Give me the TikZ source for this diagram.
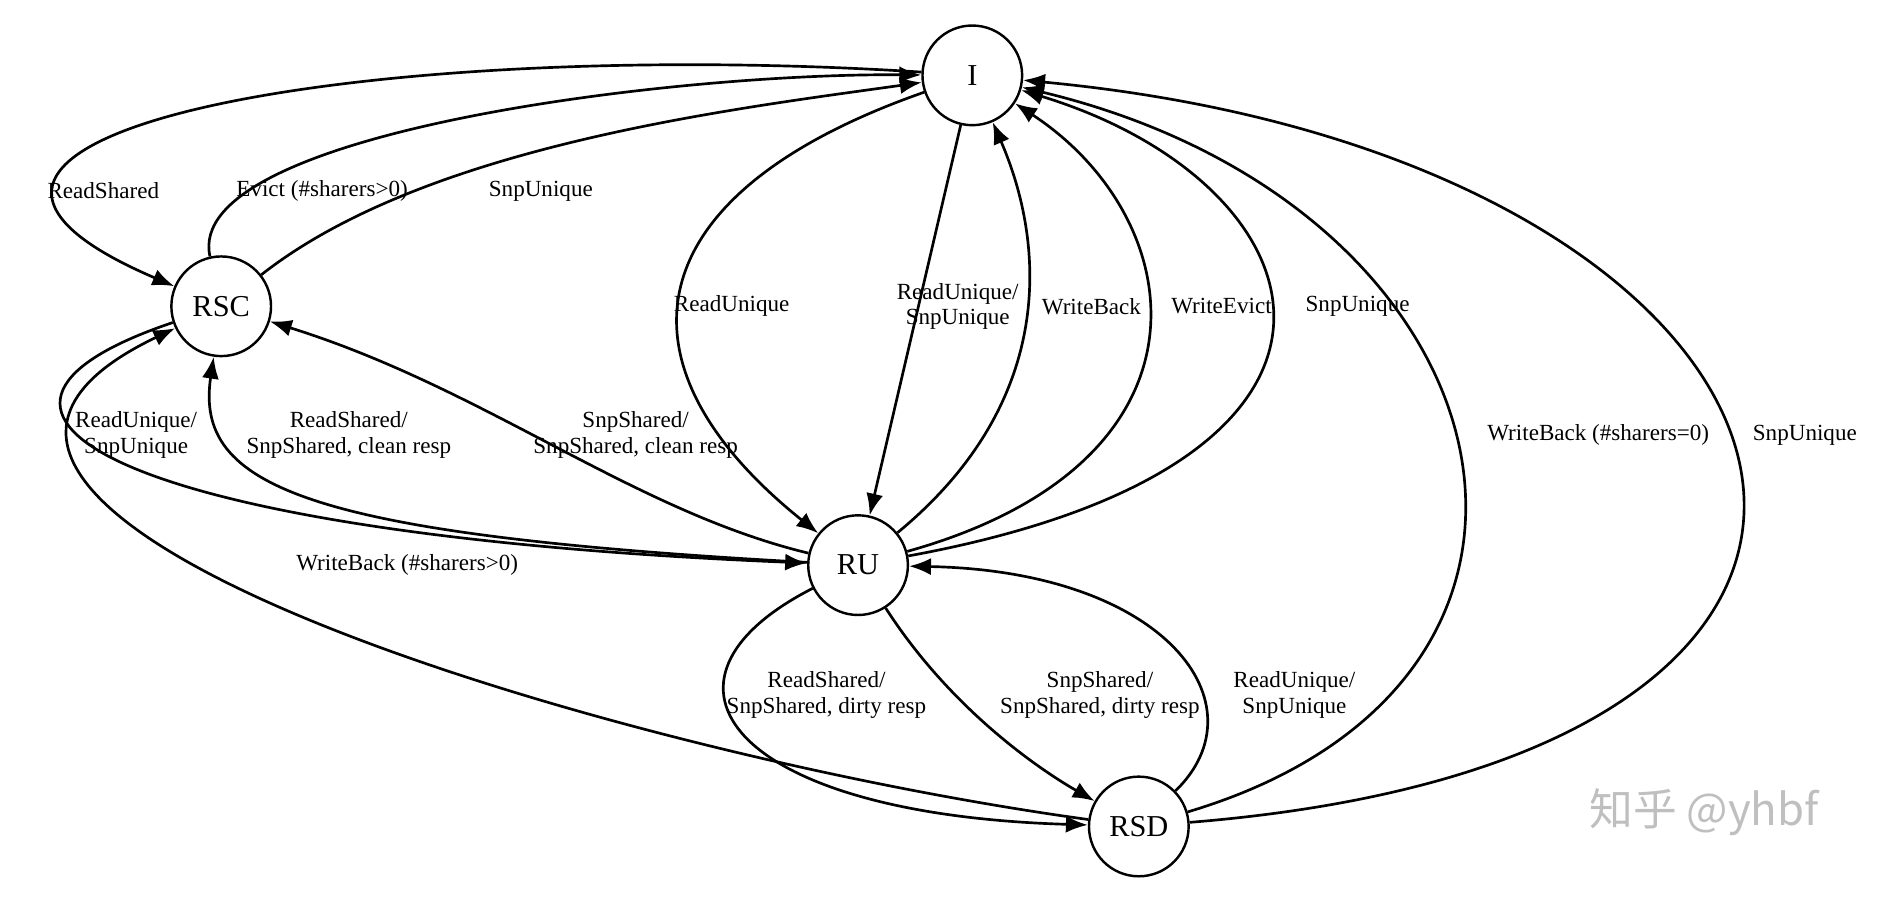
\documentclass[tikz,border=0pt]{standalone}
\usepackage{fontspec}
\setmainfont{Liberation Serif}
\usetikzlibrary{arrows.meta}
\begin{document}
\begin{tikzpicture}[x=0.5pt,y=-0.5pt,
  st/.style={circle,draw,line width=1pt,minimum size=41pt,inner sep=0pt,font=\fontsize{12.5}{12}\selectfont},
  e/.style={line width=1.1pt,-{Latex[length=9pt,width=7pt]}},
  lb/.style={font=\fontsize{9.5}{10.5}\selectfont,align=center,inner sep=1pt}]
\useasboundingbox (0,0) rectangle (1560,738);
\node[st] (I) at (800,62) {I};
\node[st] (RSC) at (182,252) {RSC};
\node[st] (RU) at (706,465) {RU};
\node[st] (RSD) at (937,680) {RSD};
\draw[e] (RSC) .. controls (150,110) and (550,60) .. (I);
\draw[e] (I) .. controls (300,30) and (-150,110) .. (RSC);
\draw[e] (RSC) .. controls (350,120) and (600,90) .. (I);
\draw[e] (I) .. controls (520,160) and (500,300) .. (RU);
\draw[e] (I) -- (RU);
\draw[e] (RU) .. controls (870,330) and (860,200) .. (I);
\draw[e] (RU) .. controls (1010,380) and (980,180) .. (I);
\draw[e] (RU) .. controls (1170,380) and (1090,150) .. (I);
\draw[e] (RSD) .. controls (1340,560) and (1250,170) .. (I);
\draw[e] (RSD) .. controls (1680,620) and (1520,130) .. (I);
\draw[e] (RSC) .. controls (-80,340) and (100,440) .. (RU);
\draw[e] (RU) .. controls (250,440) and (160,400) .. (RSC);
\draw[e] (RU) .. controls (520,420) and (400,320) .. (RSC);
\draw[e] (RSD) .. controls (500,620) and (-170,420) .. (RSC);
\draw[e] (RU) .. controls (520,560) and (600,670) .. (RSD);
\draw[e] (RU) .. controls (780,580) and (850,630) .. (RSD);
\draw[e] (RSD) .. controls (1040,580) and (960,470) .. (RU);
\node[lb] (l1) at (85,157) {ReadShared};
\node[lb] (l2) at (265,157) {Evict (\#sharers>0)};
\node[lb] (l3) at (445,157) {SnpUnique};
\node[lb] (l4) at (602,252) {ReadUnique};
\node[lb] (l5) at (788,252) {ReadUnique/\\SnpUnique};
\node[lb] (l6) at (898,252) {WriteBack};
\node[lb] (l7) at (1005,252) {WriteEvict};
\node[lb] (l8) at (1117,252) {SnpUnique};
\node[lb] (l9) at (1315,358) {WriteBack (\#sharers=0)};
\node[lb] (l10) at (1485,358) {SnpUnique};
\node[lb] (l11) at (112,358) {ReadUnique/\\SnpUnique};
\node[lb] (l12) at (287,358) {ReadShared/\\SnpShared, clean resp};
\node[lb] (l13) at (523,358) {SnpShared/\\SnpShared, clean resp};
\node[lb] (l14) at (335,465) {WriteBack (\#sharers>0)};
\node[lb] (l15) at (680,572) {ReadShared/\\SnpShared, dirty resp};
\node[lb] (l16) at (905,572) {SnpShared/\\SnpShared, dirty resp};
\node[lb] (l17) at (1065,572) {ReadUnique/\\SnpUnique};
\newfontfamily\cjk{Noto Sans CJK SC}
\node[font=\cjk\fontsize{18}{18}\selectfont,text=black!25] (wm) at (1402,668) {知乎 @yhbf};
\end{tikzpicture}
\end{document}
